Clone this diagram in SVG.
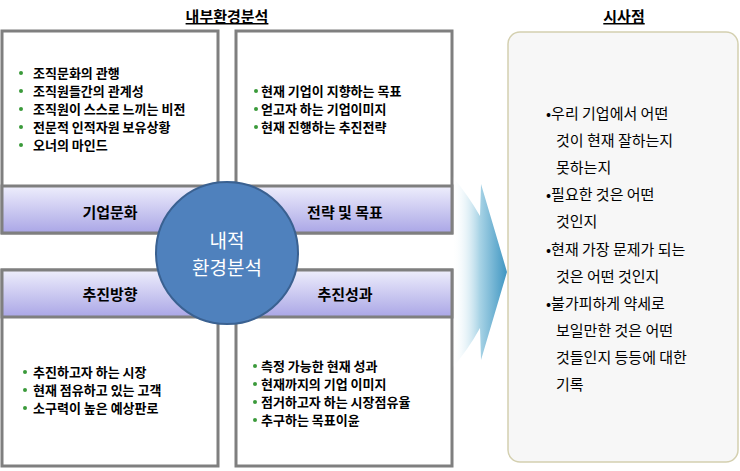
<svg xmlns="http://www.w3.org/2000/svg" width="740" height="471" viewBox="0 0 740 471">
<defs>
<linearGradient id="band" x1="0" y1="0" x2="0" y2="1"><stop offset="0" stop-color="#eeeefc"/><stop offset="1" stop-color="#aaa6e6"/></linearGradient>
<linearGradient id="arr" x1="0" y1="0" x2="1" y2="0"><stop offset="0" stop-color="#ffffff" stop-opacity="0"/><stop offset="0.5" stop-color="#a9d4e6"/><stop offset="1" stop-color="#3f96c2"/></linearGradient>
<style>
.box{fill:#fff;stroke:#7f7f7f;stroke-width:3}
.band{fill:url(#band);stroke:#7f7f7f;stroke-width:3}
.t{font-family:"Noto Sans CJK KR","Noto Sans",sans-serif;font-size:13px;font-weight:bold;fill:#000}
.h{font-family:"Noto Sans CJK KR",sans-serif;font-size:15px;font-weight:bold;fill:#000;text-anchor:middle}
.r{font-family:"Noto Sans CJK KR",sans-serif;font-size:15px;fill:#000}
.g{fill:#3a9a3a}
</style>
</defs>
<text class="h" x="227" y="22" text-decoration="underline">내부환경분석</text>
<text class="h" x="624" y="22" text-decoration="underline">시사점</text>
<g id="n1"><rect class="box" x="2" y="31" width="216" height="202"/><rect class="band" x="2" y="186" width="216" height="47"/>
<text class="h" x="110" y="218">기업문화</text>
<g class="t"><text x="33" y="78">조직문화의 관행</text><text x="33" y="96">조직원들간의 관계성</text><text x="33" y="114">조직원이 스스로 느끼는 비전</text><text x="33" y="132">전문적 인적자원 보유상황</text><text x="33" y="150">오너의 마인드</text></g>
<g class="g"><circle cx="21" cy="73" r="2"/><circle cx="21" cy="91" r="2"/><circle cx="21" cy="109" r="2"/><circle cx="21" cy="127" r="2"/><circle cx="21" cy="145" r="2"/></g></g>
<g id="n2"><rect class="box" x="236" y="31" width="216" height="202"/><rect class="band" x="236" y="186" width="216" height="47"/>
<text class="h" x="345" y="218">전략 및 목표</text>
<g class="t"><text x="261" y="96">현재 기업이 지향하는 목표</text><text x="261" y="114">얻고자 하는 기업이미지</text><text x="261" y="132">현재 진행하는 추진전략</text></g>
<g class="g"><circle cx="256" cy="91" r="2"/><circle cx="256" cy="109" r="2"/><circle cx="256" cy="127" r="2"/></g></g>
<g id="n3"><rect class="box" x="2" y="270" width="216" height="196"/><rect class="band" x="2" y="270" width="216" height="47"/>
<text class="h" x="110" y="300">추진방향</text>
<g class="t"><text x="33" y="377">추진하고자 하는 시장</text><text x="33" y="395">현재 점유하고 있는 고객</text><text x="33" y="413">소구력이 높은 예상판로</text></g>
<g class="g"><circle cx="25" cy="372" r="2"/><circle cx="25" cy="390" r="2"/><circle cx="25" cy="408" r="2"/></g></g>
<g id="n4"><rect class="box" x="236" y="270" width="216" height="196"/><rect class="band" x="236" y="270" width="216" height="47"/>
<text class="h" x="345" y="300">추진성과</text>
<g class="t"><text x="261" y="371">측정 가능한 현재 성과</text><text x="261" y="389">현재까지의 기업 이미지</text><text x="261" y="407">점거하고자 하는 시장점유율</text><text x="261" y="425">추구하는 목표이윤</text></g>
<g class="g"><circle cx="255" cy="366" r="2"/><circle cx="255" cy="384" r="2"/><circle cx="255" cy="402" r="2"/><circle cx="255" cy="420" r="2"/></g></g>
<g id="center"><circle cx="227" cy="253" r="71" fill="#4f81bd" stroke="#3a6191" stroke-width="2"/>
<text x="227" y="248" font-family="Noto Sans CJK KR,sans-serif" font-size="19" fill="#fff" text-anchor="middle">내적</text>
<text x="227" y="275" font-family="Noto Sans CJK KR,sans-serif" font-size="19" fill="#fff" text-anchor="middle">환경분석</text></g>
<g id="connectors"><path d="M452,176 Q468,195 480,216 L481,184 L507,272 L481,360 L480,328 Q468,350 452,368 Z" fill="url(#arr)"/></g>
<g id="n5"><rect x="508" y="32" width="230" height="430" rx="12" fill="#f7f7f7" stroke="#d4d0b0" stroke-width="1.5"/>
<g class="r"><text x="546" y="119">•우리 기업에서 어떤</text><text x="556" y="146">것이 현재 잘하는지</text><text x="556" y="173">못하는지</text><text x="546" y="200">•필요한 것은 어떤</text><text x="556" y="227">것인지</text><text x="546" y="255">•현재 가장 문제가 되는</text><text x="556" y="282">것은 어떤 것인지</text><text x="546" y="309">•불가피하게 약세로</text><text x="556" y="336">보일만한 것은 어떤</text><text x="556" y="363">것들인지 등등에 대한</text><text x="556" y="390">기록</text></g></g>
</svg>
